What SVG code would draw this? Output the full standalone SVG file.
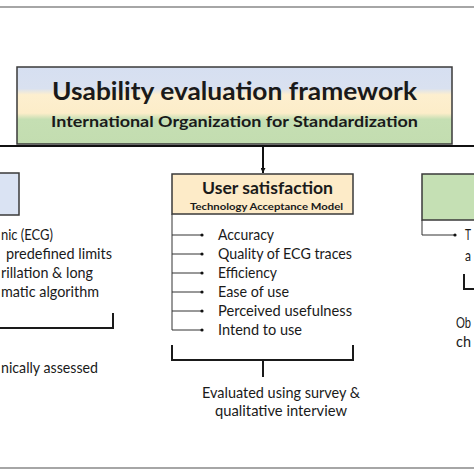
<svg xmlns="http://www.w3.org/2000/svg" width="474" height="474" viewBox="0 0 474 474">
<defs>
<linearGradient id="band" x1="0" y1="0" x2="0" y2="1">
<stop offset="0" stop-color="#D6DFF1"/>
<stop offset="0.28" stop-color="#D9E1F0"/>
<stop offset="0.36" stop-color="#FDEFCF"/>
<stop offset="0.6" stop-color="#FCEDC9"/>
<stop offset="0.68" stop-color="#C5DFB3"/>
<stop offset="1" stop-color="#C3DDB0"/>
</linearGradient>
<marker id="arr" viewBox="0 0 10 10" refX="10" refY="5" markerWidth="5" markerHeight="5" orient="auto" markerUnits="userSpaceOnUse">
<path d="M0,0 L10,5 L0,10 z" fill="#111"/>
</marker>
</defs>
<style>
text{font-family:"Lato","Open Sans","Liberation Sans",sans-serif;fill:#1a1a1a}
.box{stroke:#3a3a3a;stroke-width:1.5}
.t{font-size:15px}
.b{font-weight:bold}
.br{fill:none;stroke:#1a1a1a;stroke-width:2}
.thin{fill:none;stroke:#333;stroke-width:1}
.dot{fill:#111}
.rule{stroke:#888;stroke-width:1.5}
</style>
<rect width="474" height="474" fill="#fff"/>
<line class="rule" x1="0" y1="7" x2="474" y2="7"/>
<line class="rule" x1="0" y1="468" x2="474" y2="468"/>

<g id="framework">
<rect class="box" x="17" y="67" width="435" height="77" fill="url(#band)"/>
<text class="b" x="52" y="100" font-size="25" textLength="365" lengthAdjust="spacingAndGlyphs">Usability evaluation framework</text>
<text class="b" x="51" y="127" font-size="15" textLength="367" lengthAdjust="spacingAndGlyphs">International Organization for Standardization</text>
</g>

<g id="connectors">
<line x1="0" y1="146" x2="474" y2="146" stroke="#111" stroke-width="2"/>
<line x1="263" y1="146" x2="263" y2="173" stroke="#111" stroke-width="2" marker-end="url(#arr)"/>
</g>

<g id="left-node">
<rect class="box" x="-5" y="173" width="24" height="42" fill="#DAE3F3"/>
<text class="t" x="1" y="240" textLength="52" lengthAdjust="spacingAndGlyphs">nic (ECG)</text>
<text class="t" x="6" y="259" textLength="106" lengthAdjust="spacingAndGlyphs">predefined limits</text>
<text class="t" x="1" y="278" textLength="92" lengthAdjust="spacingAndGlyphs">rillation &amp; long</text>
<text class="t" x="1" y="297" textLength="98" lengthAdjust="spacingAndGlyphs">matic algorithm</text>
<path class="br" d="M0,328 H113 V313"/>
<text class="t" x="1" y="373" textLength="97" lengthAdjust="spacingAndGlyphs">nically assessed</text>
</g>

<g id="user-satisfaction">
<rect class="box" x="172" y="174" width="181" height="40" fill="#FDEBC8"/>
<text class="b" x="202" y="194" font-size="17" textLength="131" lengthAdjust="spacingAndGlyphs">User satisfaction</text>
<text class="b" x="190" y="210" font-size="10" textLength="153" lengthAdjust="spacingAndGlyphs">Technology Acceptance Model</text>
<path class="thin" d="M172,214 V330 M172,235 H201 M172,254 H201 M172,273 H201 M172,292 H201 M172,311 H201 M172,330 H201"/>
<circle class="dot" cx="202" cy="235" r="1.6"/>
<circle class="dot" cx="202" cy="254" r="1.6"/>
<circle class="dot" cx="202" cy="273" r="1.6"/>
<circle class="dot" cx="202" cy="292" r="1.6"/>
<circle class="dot" cx="202" cy="311" r="1.6"/>
<circle class="dot" cx="202" cy="330" r="1.6"/>
<text class="t" x="218" y="240" textLength="56" lengthAdjust="spacingAndGlyphs">Accuracy</text>
<text class="t" x="218" y="259" textLength="134" lengthAdjust="spacingAndGlyphs">Quality of ECG traces</text>
<text class="t" x="218" y="278" textLength="59" lengthAdjust="spacingAndGlyphs">Efficiency</text>
<text class="t" x="218" y="297" textLength="71" lengthAdjust="spacingAndGlyphs">Ease of use</text>
<text class="t" x="218" y="316" textLength="134" lengthAdjust="spacingAndGlyphs">Perceived usefulness</text>
<text class="t" x="218" y="335" textLength="84" lengthAdjust="spacingAndGlyphs">Intend to use</text>
<path class="br" d="M172,345 V360 H353 V345 M263,360 V377"/>
<text class="t" x="281" y="398" text-anchor="middle" textLength="158" lengthAdjust="spacingAndGlyphs">Evaluated using survey &amp;</text>
<text class="t" x="281" y="416" text-anchor="middle" textLength="132" lengthAdjust="spacingAndGlyphs">qualitative interview</text>
</g>

<g id="right-node">
<rect class="box" x="422" y="174" width="60" height="46" fill="#C5E0B4"/>
<path class="thin" d="M422,220 V235 H454"/>
<circle class="dot" cx="455" cy="235" r="1.6"/>
<text class="t" x="465" y="240" textLength="6" lengthAdjust="spacingAndGlyphs">T</text>
<text class="t" x="465" y="261" textLength="6" lengthAdjust="spacingAndGlyphs">a</text>
<path class="br" d="M464,274 V289 H476"/>
<text class="t" x="456" y="328" textLength="15" lengthAdjust="spacingAndGlyphs">Ob</text>
<text class="t" x="456" y="347" textLength="15" lengthAdjust="spacingAndGlyphs">ch</text>
</g>
</svg>
